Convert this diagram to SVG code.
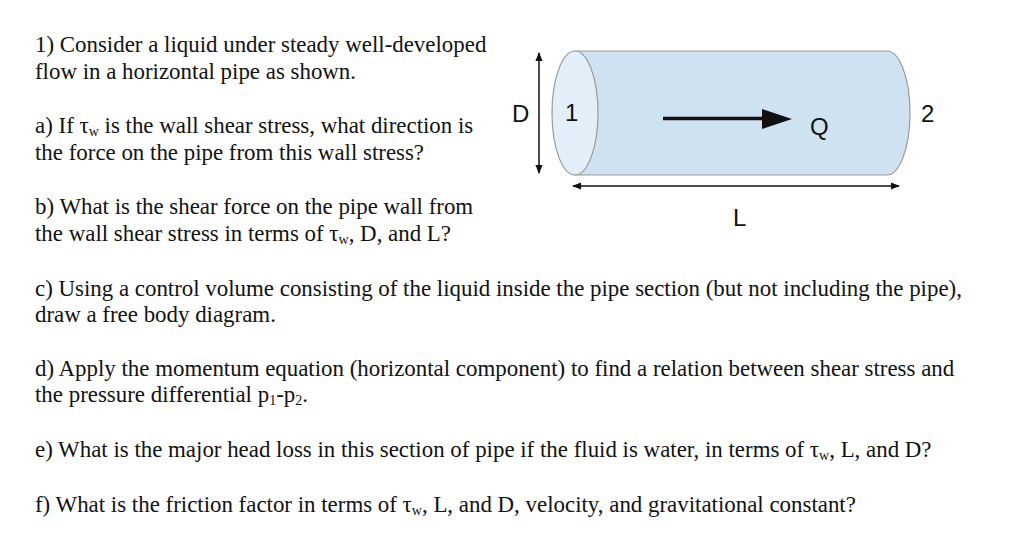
<svg xmlns="http://www.w3.org/2000/svg" width="1024" height="535" viewBox="0 0 1024 535">
<defs>
<style>
.t{font-family:"Liberation Serif",serif;font-size:22.9px;fill:#111}
.s{font-size:14px}
.l{font-family:"Liberation Sans",Arial,sans-serif;font-size:24px;fill:#111}
</style>
<marker id="a" viewBox="0 0 10 10" refX="9" refY="5" markerWidth="6" markerHeight="6" orient="auto-start-reverse"><path d="M0,1 L10,5 L0,9 z" fill="#111"/></marker>
</defs>
<rect width="1024" height="535" fill="#fff"/>
<g id="text">
<text class="t" x="35" y="52">1) Consider a liquid under steady well-developed</text>
<text class="t" x="35" y="79">flow in a horizontal pipe as shown.</text>
<text class="t" x="35" y="133">a) If τ<tspan class="s" dy="3">w</tspan><tspan dy="-3"> is the wall shear stress, what direction is</tspan></text>
<text class="t" x="35" y="160">the force on the pipe from this wall stress?</text>
<text class="t" x="35" y="214">b) What is the shear force on the pipe wall from</text>
<text class="t" x="35" y="241">the wall shear stress in terms of τ<tspan class="s" dy="3">w</tspan><tspan dy="-3">, D, and L?</tspan></text>
<text class="t" x="35" y="296">c) Using a control volume consisting of the liquid inside the pipe section (but not including the pipe),</text>
<text class="t" x="35" y="322">draw a free body diagram.</text>
<text class="t" x="35" y="376">d) Apply the momentum equation (horizontal component) to find a relation between shear stress and</text>
<text class="t" x="35" y="402">the pressure differential p<tspan class="s" dy="3">1</tspan><tspan dy="-3">-p</tspan><tspan class="s" dy="3">2</tspan><tspan dy="-3">.</tspan></text>
<text class="t" x="35" y="457">e) What is the major head loss in this section of pipe if the fluid is water, in terms of τ<tspan class="s" dy="3">w</tspan><tspan dy="-3">, L, and D?</tspan></text>
<text class="t" x="35" y="512">f) What is the friction factor in terms of τ<tspan class="s" dy="3">w</tspan><tspan dy="-3">, L, and D, velocity, and gravitational constant?</tspan></text>
</g>
<g id="pipe">
<path d="M575,51 L887,51 A23,62 0 0 1 887,175 L575,175 Z" fill="#cfe2f1" stroke="#999" stroke-width="1.2"/>
<ellipse cx="575" cy="113" rx="23" ry="62" fill="#e2eef8" stroke="#999" stroke-width="1.2"/>
</g>
<g id="connectors" stroke="#111" fill="none">
<line x1="539" y1="53" x2="539" y2="173" stroke-width="1.5" marker-start="url(#a)" marker-end="url(#a)"/>
<line x1="573" y1="186" x2="899" y2="186" stroke-width="1.5" marker-start="url(#a)" marker-end="url(#a)"/>
<line x1="663" y1="118.5" x2="765" y2="118.5" stroke-width="3.5"/>
<path d="M762,109 L792,119 L762,129 Z" fill="#111" stroke="none"/>
</g>
<g id="labels">
<text class="l" x="512" y="122">D</text>
<text class="l" x="565" y="121">1</text>
<text class="l" x="810" y="135">Q</text>
<text class="l" x="921" y="122">2</text>
<text class="l" x="733" y="226">L</text>
</g>
</svg>
